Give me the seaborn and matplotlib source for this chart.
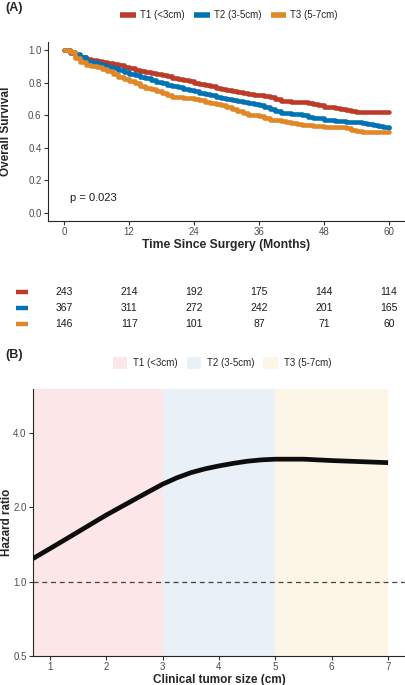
import numpy as np
import pandas as pd
import matplotlib
matplotlib.use("Agg")
import matplotlib.pyplot as plt
import seaborn as sns
from matplotlib.lines import Line2D
from matplotlib.patches import Patch
from matplotlib.ticker import FixedLocator, NullLocator

# ---------------- data ----------------
groups = ["T1 (<3cm)", "T2 (3-5cm)", "T3 (5-7cm)"]
km_colors = ["#BC3C29", "#0072B5", "#E18727"]

t1_time = [0, 1, 2, 3, 4, 5, 6, 7, 8, 9, 10, 11, 12, 13, 14, 15, 16, 17, 18, 19, 20, 21, 22, 23, 24,
           25, 26, 27, 28, 29, 30, 31, 32, 33, 34, 35, 36, 37, 38, 39, 40, 42, 44, 45, 46, 47, 48,
           50, 51, 52, 53, 54, 60]
t1_surv = [1.0, 0.985, 0.97, 0.955, 0.948, 0.938, 0.933, 0.928, 0.922, 0.915, 0.908, 0.898, 0.888,
           0.878, 0.871, 0.866, 0.861, 0.853, 0.847, 0.838, 0.830, 0.823, 0.816, 0.808, 0.800,
           0.793, 0.786, 0.777, 0.769, 0.762, 0.755, 0.747, 0.740, 0.734, 0.730, 0.727, 0.724,
           0.717, 0.710, 0.700, 0.690, 0.684, 0.680, 0.673, 0.667, 0.660, 0.653, 0.647, 0.640,
           0.633, 0.626, 0.619, 0.619]

t2_time = [0, 1, 2, 3, 4, 5, 6, 7, 8, 9, 10, 11, 12, 13, 14, 15, 16, 17, 18, 19, 20, 21, 22, 23, 24,
           25, 26, 27, 28, 29, 30, 31, 32, 33, 34, 35, 36, 37, 38, 39, 40, 42, 44, 45, 46, 48, 50,
           52, 54, 55, 56, 57, 58, 59, 60]
t2_surv = [1.0, 0.99, 0.975, 0.955, 0.935, 0.925, 0.914, 0.906, 0.898, 0.889, 0.880, 0.866, 0.853,
           0.845, 0.837, 0.826, 0.816, 0.806, 0.796, 0.788, 0.780, 0.771, 0.763, 0.756, 0.749,
           0.739, 0.729, 0.722, 0.714, 0.708, 0.702, 0.696, 0.690, 0.684, 0.678, 0.670, 0.661,
           0.649, 0.637, 0.626, 0.616, 0.608, 0.600, 0.590, 0.580, 0.571, 0.567, 0.561, 0.557,
           0.552, 0.547, 0.541, 0.535, 0.528, 0.520]

t3_time = [0, 1, 2, 3, 4, 5, 6, 7, 8, 9, 10, 11, 12, 13, 14, 15, 16, 17, 18, 19, 20, 22, 24, 25, 26,
           27, 28, 29, 30, 31, 32, 33, 34, 36, 37, 38, 40, 41, 42, 43, 44, 46, 48, 52, 53, 54, 55,
           56, 60]
t3_surv = [1.0, 0.99, 0.95, 0.93, 0.908, 0.903, 0.898, 0.885, 0.871, 0.854, 0.837, 0.823, 0.810,
           0.795, 0.780, 0.770, 0.759, 0.747, 0.735, 0.722, 0.710, 0.704, 0.698, 0.691, 0.684,
           0.675, 0.667, 0.660, 0.653, 0.640, 0.627, 0.614, 0.602, 0.596, 0.583, 0.571, 0.567,
           0.558, 0.550, 0.545, 0.541, 0.535, 0.527, 0.520, 0.512, 0.504, 0.499, 0.494, 0.494]

risk_times = [0, 12, 24, 36, 48, 60]
risk_t1 = [243, 214, 192, 175, 144, 114]
risk_t2 = [367, 311, 272, 242, 201, 165]
risk_t3 = [146, 117, 101, 87, 71, 60]

p_text = "p = 0.023"

hr_size = [0.7, 1.0, 1.25, 1.5, 1.75, 2.0, 2.25, 2.5, 2.75, 3.0, 3.25, 3.5, 3.75, 4.0, 4.25, 4.5,
           4.75, 5.0, 5.5, 6.0, 6.5, 7.0]
hr_value = [1.24, 1.36, 1.47, 1.59, 1.72, 1.86, 2.0, 2.15, 2.31, 2.48, 2.63, 2.76, 2.86, 2.94,
            3.01, 3.07, 3.11, 3.13, 3.13, 3.09, 3.06, 3.03]

band_labels = ["T1 (<3cm)", "T2 (3-5cm)", "T3 (5-7cm)"]
band_edges = [0.7, 3, 5, 7]
band_colors = ["#FCE6E7", "#EAF0F8", "#FDF5E5"]

# ---------------- style ----------------
sns.set_style("ticks")
plt.rcParams["font.family"] = ["Liberation Sans", "DejaVu Sans"]
plt.rcParams["axes.linewidth"] = 0.8
plt.rcParams["xtick.major.width"] = 0.8
plt.rcParams["ytick.major.width"] = 0.8
plt.rcParams["xtick.major.size"] = 2.6
plt.rcParams["ytick.major.size"] = 2.6
plt.rcParams["xtick.major.pad"] = 2
plt.rcParams["ytick.major.pad"] = 2
tick_color = "#4D4D4D"

W, H = 406, 685
fig = plt.figure(figsize=(W / 100, H / 100), dpi=100)

def box(l, t, r, b):
    return [l / W, 1 - b / H, (r - l) / W, (b - t) / H]

# ---------------- Panel A: KM ----------------
axA = fig.add_axes(box(48, 42, 405, 221))
km_df = pd.concat([
    pd.DataFrame({"time": t1_time, "surv": t1_surv, "group": groups[0]}),
    pd.DataFrame({"time": t2_time, "surv": t2_surv, "group": groups[1]}),
    pd.DataFrame({"time": t3_time, "surv": t3_surv, "group": groups[2]}),
])
sns.lineplot(data=km_df, x="time", y="surv", hue="group", palette=km_colors,
             estimator=None, drawstyle="steps-post", lw=3.3, legend=False, ax=axA)
axA.set_xlim(-3, 63)
axA.set_ylim(-0.05, 1.05)
axA.set_xticks(risk_times)
axA.set_yticks([0, 0.2, 0.4, 0.6, 0.8, 1.0])
axA.set_yticklabels([f"{v:.1f}" for v in [0, 0.2, 0.4, 0.6, 0.8, 1.0]])
axA.tick_params(labelsize=7, colors="#333333", labelcolor=tick_color)
axA.set_xlabel("Time Since Surgery (Months)", fontsize=8.7, fontweight="bold", labelpad=1)
axA.set_ylabel("Overall Survival", fontsize=8.5, fontweight="bold")
axA.yaxis.set_label_coords(-0.102, 0.5)
sns.despine(ax=axA)
axA.text(1.1, 0.09, p_text, fontsize=8, ha="left", va="center", color="#1a1a1a")

handlesA = [Line2D([0], [0], color=c, lw=4.0, solid_capstyle="butt") for c in km_colors]
fig.legend(handlesA, groups, loc="center", bbox_to_anchor=(229 / W, 1 - 15 / H), ncol=3,
           frameon=False, fontsize=7, handlelength=1.6, handletextpad=0.4, columnspacing=1.0)
fig.text(5 / W, 1 - 8 / H, "(A)", fontsize=9, fontweight="bold", ha="left", va="center")

# ---------------- risk table ----------------
axT = fig.add_axes(box(48, 275, 405, 341))
axT.set_xlim(-3, 63)
axT.set_ylim(3.05, -1.05)
axT.axis("off")
for row, (vals, c) in enumerate(zip([risk_t1, risk_t2, risk_t3], km_colors)):
    for t, v in zip(risk_times, vals):
        axT.text(t, row, str(v), ha="center", va="center", fontsize=7.5, color="#1a1a1a")
    axT.plot([-8.9, -6.7], [row, row], color=c, lw=3.2, solid_capstyle="butt", clip_on=False)

# ---------------- Panel B: hazard ratio ----------------
axB = fig.add_axes(box(33, 389, 405, 656))
for (x0, x1), c in zip(zip(band_edges[:-1], band_edges[1:]), band_colors):
    axB.axvspan(x0, x1, color=c, lw=0, zorder=0)
axB.axhline(1.0, color="#444444", lw=0.9, ls=(0, (4, 3)), zorder=1)
hr_df = pd.DataFrame({"size": hr_size, "hr": hr_value})
sns.lineplot(data=hr_df, x="size", y="hr", color="#0d0d0d", lw=3.4, estimator=None,
             sort=True, ax=axB, zorder=3, solid_capstyle="butt")
axB.set_yscale("log")
axB.set_xlim(0.7, 7.3)
axB.set_ylim(0.5, 6.02)
axB.yaxis.set_major_locator(FixedLocator([0.5, 1.0, 2.0, 4.0]))
axB.yaxis.set_minor_locator(NullLocator())
axB.set_yticklabels(["0.5", "1.0", "2.0", "4.0"])
axB.set_xticks([1, 2, 3, 4, 5, 6, 7])
axB.tick_params(labelsize=7, colors="#333333", labelcolor=tick_color)
axB.set_xlabel("Clinical tumor size (cm)", fontsize=8.5, fontweight="bold", labelpad=1)
axB.set_ylabel("Hazard ratio", fontsize=8.4, fontweight="bold")
axB.yaxis.set_label_coords(-0.054, 0.5)
sns.despine(ax=axB)

handlesB = [Patch(facecolor=c, edgecolor="none") for c in band_colors]
fig.legend(handlesB, band_labels, loc="center", bbox_to_anchor=(222 / W, 1 - 363 / H), ncol=3,
           frameon=False, fontsize=7, handlelength=1.5, handleheight=1.6, handletextpad=0.6,
           columnspacing=0.9)
fig.text(5 / W, 1 - 355 / H, "(B)", fontsize=9, fontweight="bold", ha="left", va="center")

fig.savefig("out.png", dpi=100)
